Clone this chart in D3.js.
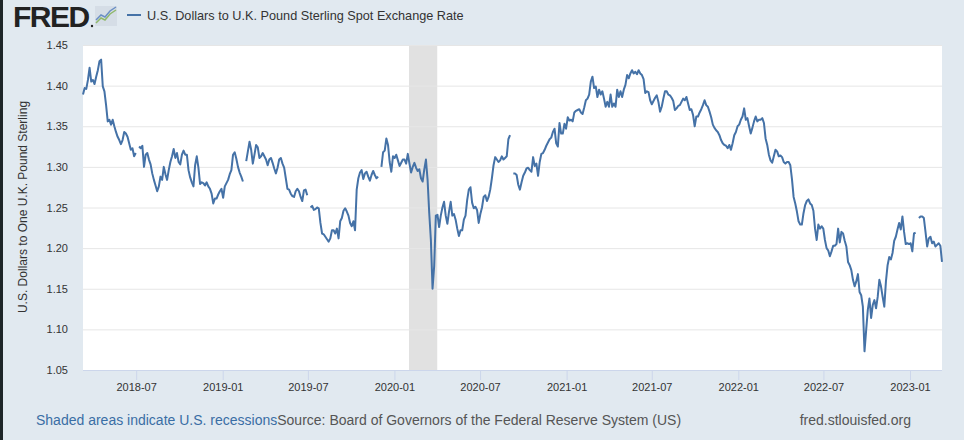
<!DOCTYPE html>
<html><head><meta charset="utf-8">
<script src="https://cdn.jsdelivr.net/npm/d3@7"></script>
<style>
body{margin:0;background:#e1e9f0;}
svg{display:block;font-family:"Liberation Sans",Arial,sans-serif;}
</style>
</head><body>
<svg id="c" width="964" height="440"></svg>
<script>
// ---------------- data ----------------
const seriesTitle = "U.S. Dollars to U.K. Pound Sterling Spot Exchange Rate";
const yAxisTitle = "U.S. Dollars to One U.K. Pound Sterling";
const footerLeft = "Shaded areas indicate U.S. recessions";
const footerSource = "Source: Board of Governors of the Federal Reserve System (US)";
const footerRight = "fred.stlouisfed.org";
const yTickValues = [1.05, 1.10, 1.15, 1.20, 1.25, 1.30, 1.35, 1.40, 1.45];
const xTickDates = ["2018-07-01","2019-01-01","2019-07-01","2020-01-01","2020-07-01",
                    "2021-01-01","2021-07-01","2022-01-01","2022-07-01","2023-01-01"];
const firstDate = "2018-03-10", lastDate = "2023-03-10";
const recessions = [["2020-02-01", "2020-04-01"]];

// twice-weekly readings, null = holiday gap
const rates2018 = [1.389,1.397,1.396,1.407,1.422,1.405,1.407,1.402,1.411,1.419,
 1.430,1.432,1.399,1.393,1.376,1.356,1.358,1.352,1.358,1.350,
 1.343,1.337,1.333,1.328,1.333,1.343,1.341,1.337,1.329,1.321,
 1.323,1.313,1.317,null,1.325,1.323,1.326,1.300,1.315,1.317,
 1.309,1.303,1.292,1.284,1.277,1.270,1.276,1.288,1.284,1.300,
 1.291,1.284,1.296,1.306,1.313,1.322,1.311,1.317,1.306,1.303,
 1.315,1.320,1.315,1.315,1.296,1.287,1.281,1.276,1.302,1.313,
 1.299,1.279,1.281,1.280,1.277,1.281,1.276,1.273,1.267,1.255,
 1.261,1.261,1.266,1.270,1.273,1.262,1.276,1.280,1.284,1.291,
 1.296,1.315,1.318,1.310,1.300,1.293,1.288,1.282,null,1.307,
 1.319,1.331,1.321,1.304,1.315,1.327,1.324,1.311];
const rates2019 = [1.313,1.317,1.313,1.309,1.302,1.309,1.311,1.305,1.298,1.292,
 1.299,1.309,1.311,1.304,1.299,1.286,1.273,1.272,1.267,1.264,
 1.263,1.270,1.273,1.270,1.263,1.258,1.271,1.272,1.265,null,
 1.250,1.252,1.247,1.248,1.250,1.249,1.231,1.218,1.217,1.214,
 1.211,1.208,1.212,1.222,1.222,1.218,1.224,1.212,1.233,1.237,
 1.246,1.249,1.245,1.240,1.231,1.227,1.233,1.222,1.272,1.286,
 1.293,1.296,1.285,1.292,1.294,1.288,1.283,1.290,1.295,1.290,
 1.286,1.288,null,1.300,1.318,1.320,1.335,1.327,1.306,1.294,
 1.313,1.311,1.315,1.308,1.301,1.305,1.309,1.309,1.304,1.316,
 1.304,1.293,1.300,1.305,1.299,1.295,1.297,1.286,1.282,1.297,
 1.309,1.284,1.243,1.210,1.150,1.178];
const rates2020 = [1.240,1.241,1.226,1.240,1.250,1.257,1.240,1.230,1.245,1.257,
 1.240,1.242,1.235,1.224,1.215,1.222,1.222,1.235,1.240,1.259,
 1.272,1.275,1.256,1.249,1.251,1.247,1.231,1.242,1.250,1.263,
 1.265,1.258,1.263,1.272,1.286,1.302,1.312,1.309,1.306,1.308,
 1.313,1.309,1.311,1.313,1.334,1.339,null,1.292,1.292,1.290,
 1.278,1.272,1.281,1.289,1.293,1.298,1.299,1.296,1.294,1.312,
 1.301,1.304,1.289,1.306,1.316,1.317,1.321,1.326,1.330,1.334,
 1.336,1.343,1.347,1.329,1.325,1.354,1.341,1.341,1.353,1.347,
 1.361,1.357,1.358,1.356,1.367,1.369,1.370,1.371];
const rates2021 = [1.367,1.365,1.373,1.382,1.384,1.389,1.405,1.411,1.397,1.399,
 1.386,1.395,1.389,1.393,1.384,1.374,1.380,1.374,1.389,1.374,
 1.378,1.374,1.395,1.386,1.393,1.386,1.395,1.401,1.413,1.409,
 1.415,1.419,1.415,1.417,1.414,1.419,1.415,1.413,1.408,1.391,
 1.393,1.392,1.382,1.377,1.381,1.385,1.388,1.380,1.368,1.374,
 1.384,1.393,1.393,1.389,1.388,1.385,1.381,1.370,1.372,1.375,
 1.376,1.380,1.384,1.382,1.386,1.378,1.370,1.371,1.364,1.350,
 1.362,1.362,1.367,1.371,1.376,1.382,1.376,1.374,1.368,1.361,
 1.352,1.348,1.345,1.343,1.339,1.333,1.329,1.327,1.326,1.323,
 1.327,1.321,1.329,1.339,1.343,1.350,1.352,1.358,1.362,1.372,
 1.358,1.360,1.350,1.341,1.348,1.356,1.362,1.356,1.358,1.358];
const rates2022 = [1.360,1.354,1.335,1.327,1.315,1.308,1.305,1.313,1.321,1.319,
 1.313,1.314,1.312,1.306,1.304,1.306,1.306,1.302,1.285,1.263,
 1.255,1.245,1.233,1.229,1.229,1.243,1.253,1.258,1.260,1.255,
 1.253,1.246,1.224,1.210,1.229,1.224,1.227,1.224,1.210,1.200,
 1.197,1.190,1.196,1.203,1.203,1.205,1.224,1.207,1.220,1.218,
 1.209,1.202,1.183,1.179,1.173,1.161,1.153,1.159,1.168,1.146,
 1.142,1.128,1.073,1.099,1.124,1.138,1.114,1.130,1.136,1.126,
 1.140,1.161,1.153,1.140,1.128,1.159,1.179,1.189,1.186,1.194,
 1.209,1.214,1.223,1.231,1.223,1.239,1.220,1.205,1.206,1.205,
 1.206,1.196,1.218,1.219,null,1.237,1.239,1.239,1.237,1.220,
 1.202,1.212,1.214,1.206,1.208,1.202,1.204,1.206,1.203,1.183];
const rates = [].concat(rates2018, rates2019, rates2020, rates2021, rates2022);

// ---------------- chart ----------------
const svg = d3.select("#c");
const W = 964, H = 440;
const plot = {l: 83, r: 942, t: 45, b: 370};
const parse = d3.utcParse("%Y-%m-%d");
const t0 = parse(firstDate), t1 = parse(lastDate);
const step = (t1 - t0) / (rates.length - 1);
const points = rates.map((v, i) => ({date: new Date(+t0 + i * step), value: v}));

const x = d3.scaleUtc().domain([t0, t1]).range([plot.l, plot.r]);
const y = d3.scaleLinear().domain([1.05, 1.45]).range([plot.b, plot.t]);

svg.append("rect").attr("width", W).attr("height", H).attr("fill", "#e1e9f0");
svg.append("rect").attr("x", 0).attr("y", 0).attr("width", 3).attr("height", H).attr("fill", "#1d2528");

// plot background
svg.append("rect").attr("x", plot.l).attr("y", plot.t)
  .attr("width", plot.r - plot.l).attr("height", plot.b - plot.t).attr("fill", "#ffffff");

// recessions
svg.selectAll("rect.rec").data(recessions).join("rect").attr("class", "rec")
  .attr("x", d => x(parse(d[0]))).attr("y", plot.t)
  .attr("width", d => x(parse(d[1])) - x(parse(d[0])))
  .attr("height", plot.b - plot.t).attr("fill", "#e1e1e1");

// y axis + gridlines
const yAxis = d3.axisLeft(y).tickValues(yTickValues).tickFormat(d3.format(".2f"))
  .tickSize(-(plot.r - plot.l)).tickPadding(15);
const gy = svg.append("g").attr("transform", `translate(${plot.l},0)`).call(yAxis);
gy.select(".domain").remove();
gy.selectAll(".tick line").attr("stroke", "#e6e6e6").attr("stroke-width", 1);
gy.selectAll(".tick text").attr("fill", "#333").attr("font-size", 11)
  .attr("font-family", "Liberation Sans, Arial, sans-serif");

// x axis
const xAxis = d3.axisBottom(x).tickValues(xTickDates.map(parse))
  .tickFormat(d3.utcFormat("%Y-%m")).tickSize(10).tickPadding(3);
const gx = svg.append("g").attr("transform", `translate(0,${plot.b})`).call(xAxis);
gx.select(".domain").attr("stroke", "#ccd6eb").attr("d", `M${plot.l},0.5H${plot.r}`);
gx.selectAll(".tick line").attr("stroke", "#ccd6eb");
gx.selectAll(".tick text").attr("fill", "#333").attr("font-size", 11)
  .attr("font-family", "Liberation Sans, Arial, sans-serif");

// series line
const line = d3.line().defined(d => d.value !== null)
  .x(d => x(d.date)).y(d => y(d.value));
svg.append("path").datum(points).attr("d", line)
  .attr("fill", "none").attr("stroke", "#4572a7").attr("stroke-width", 2)
  .attr("stroke-linejoin", "round");

// y title
svg.append("text").attr("transform", "translate(27,207) rotate(-90)")
  .attr("text-anchor", "middle").attr("font-size", 12).attr("fill", "#333")
  .text(yAxisTitle);

// header: FRED logo
svg.append("text").attr("x", 13).attr("y", 27).attr("font-size", 30).attr("font-weight", "bold")
  .attr("letter-spacing", -1.5).attr("fill", "#222").text("FRED");
svg.append("circle").attr("cx", 92).attr("cy", 26).attr("r", 1.2).attr("fill", "#222");
const icon = svg.append("g").attr("transform", "translate(95,6)");
icon.append("rect").attr("width", 22).attr("height", 20).attr("fill", "#d5dde6");
icon.append("path").attr("d", "M1,17 L6,12 L10,14 L15,8 L21,4")
  .attr("fill", "none").attr("stroke", "#8fb86b").attr("stroke-width", 1.5);
icon.append("path").attr("d", "M1,14 L6,9 L10,11 L15,5 L21,1")
  .attr("fill", "none").attr("stroke", "#6a8fc4").attr("stroke-width", 1.5);

// legend
svg.append("line").attr("x1", 127).attr("x2", 141).attr("y1", 15).attr("y2", 15)
  .attr("stroke", "#4572a7").attr("stroke-width", 2);
svg.append("text").attr("x", 147).attr("y", 19.5).attr("font-size", 12.7).attr("fill", "#333")
  .text(seriesTitle);

// footer
const leftNote = svg.append("text").attr("x", 36).attr("y", 425).attr("font-size", 14)
  .attr("fill", "#3a6ea5").text(footerLeft);
const leftLen = leftNote.node().getComputedTextLength();
svg.append("text").attr("x", 36 + leftLen).attr("y", 425)
  .attr("font-size", 14).attr("fill", "#555").text(footerSource);
svg.append("text").attr("x", 911).attr("y", 425).attr("text-anchor", "end")
  .attr("font-size", 14).attr("fill", "#555").text(footerRight);
</script>
</body></html>
